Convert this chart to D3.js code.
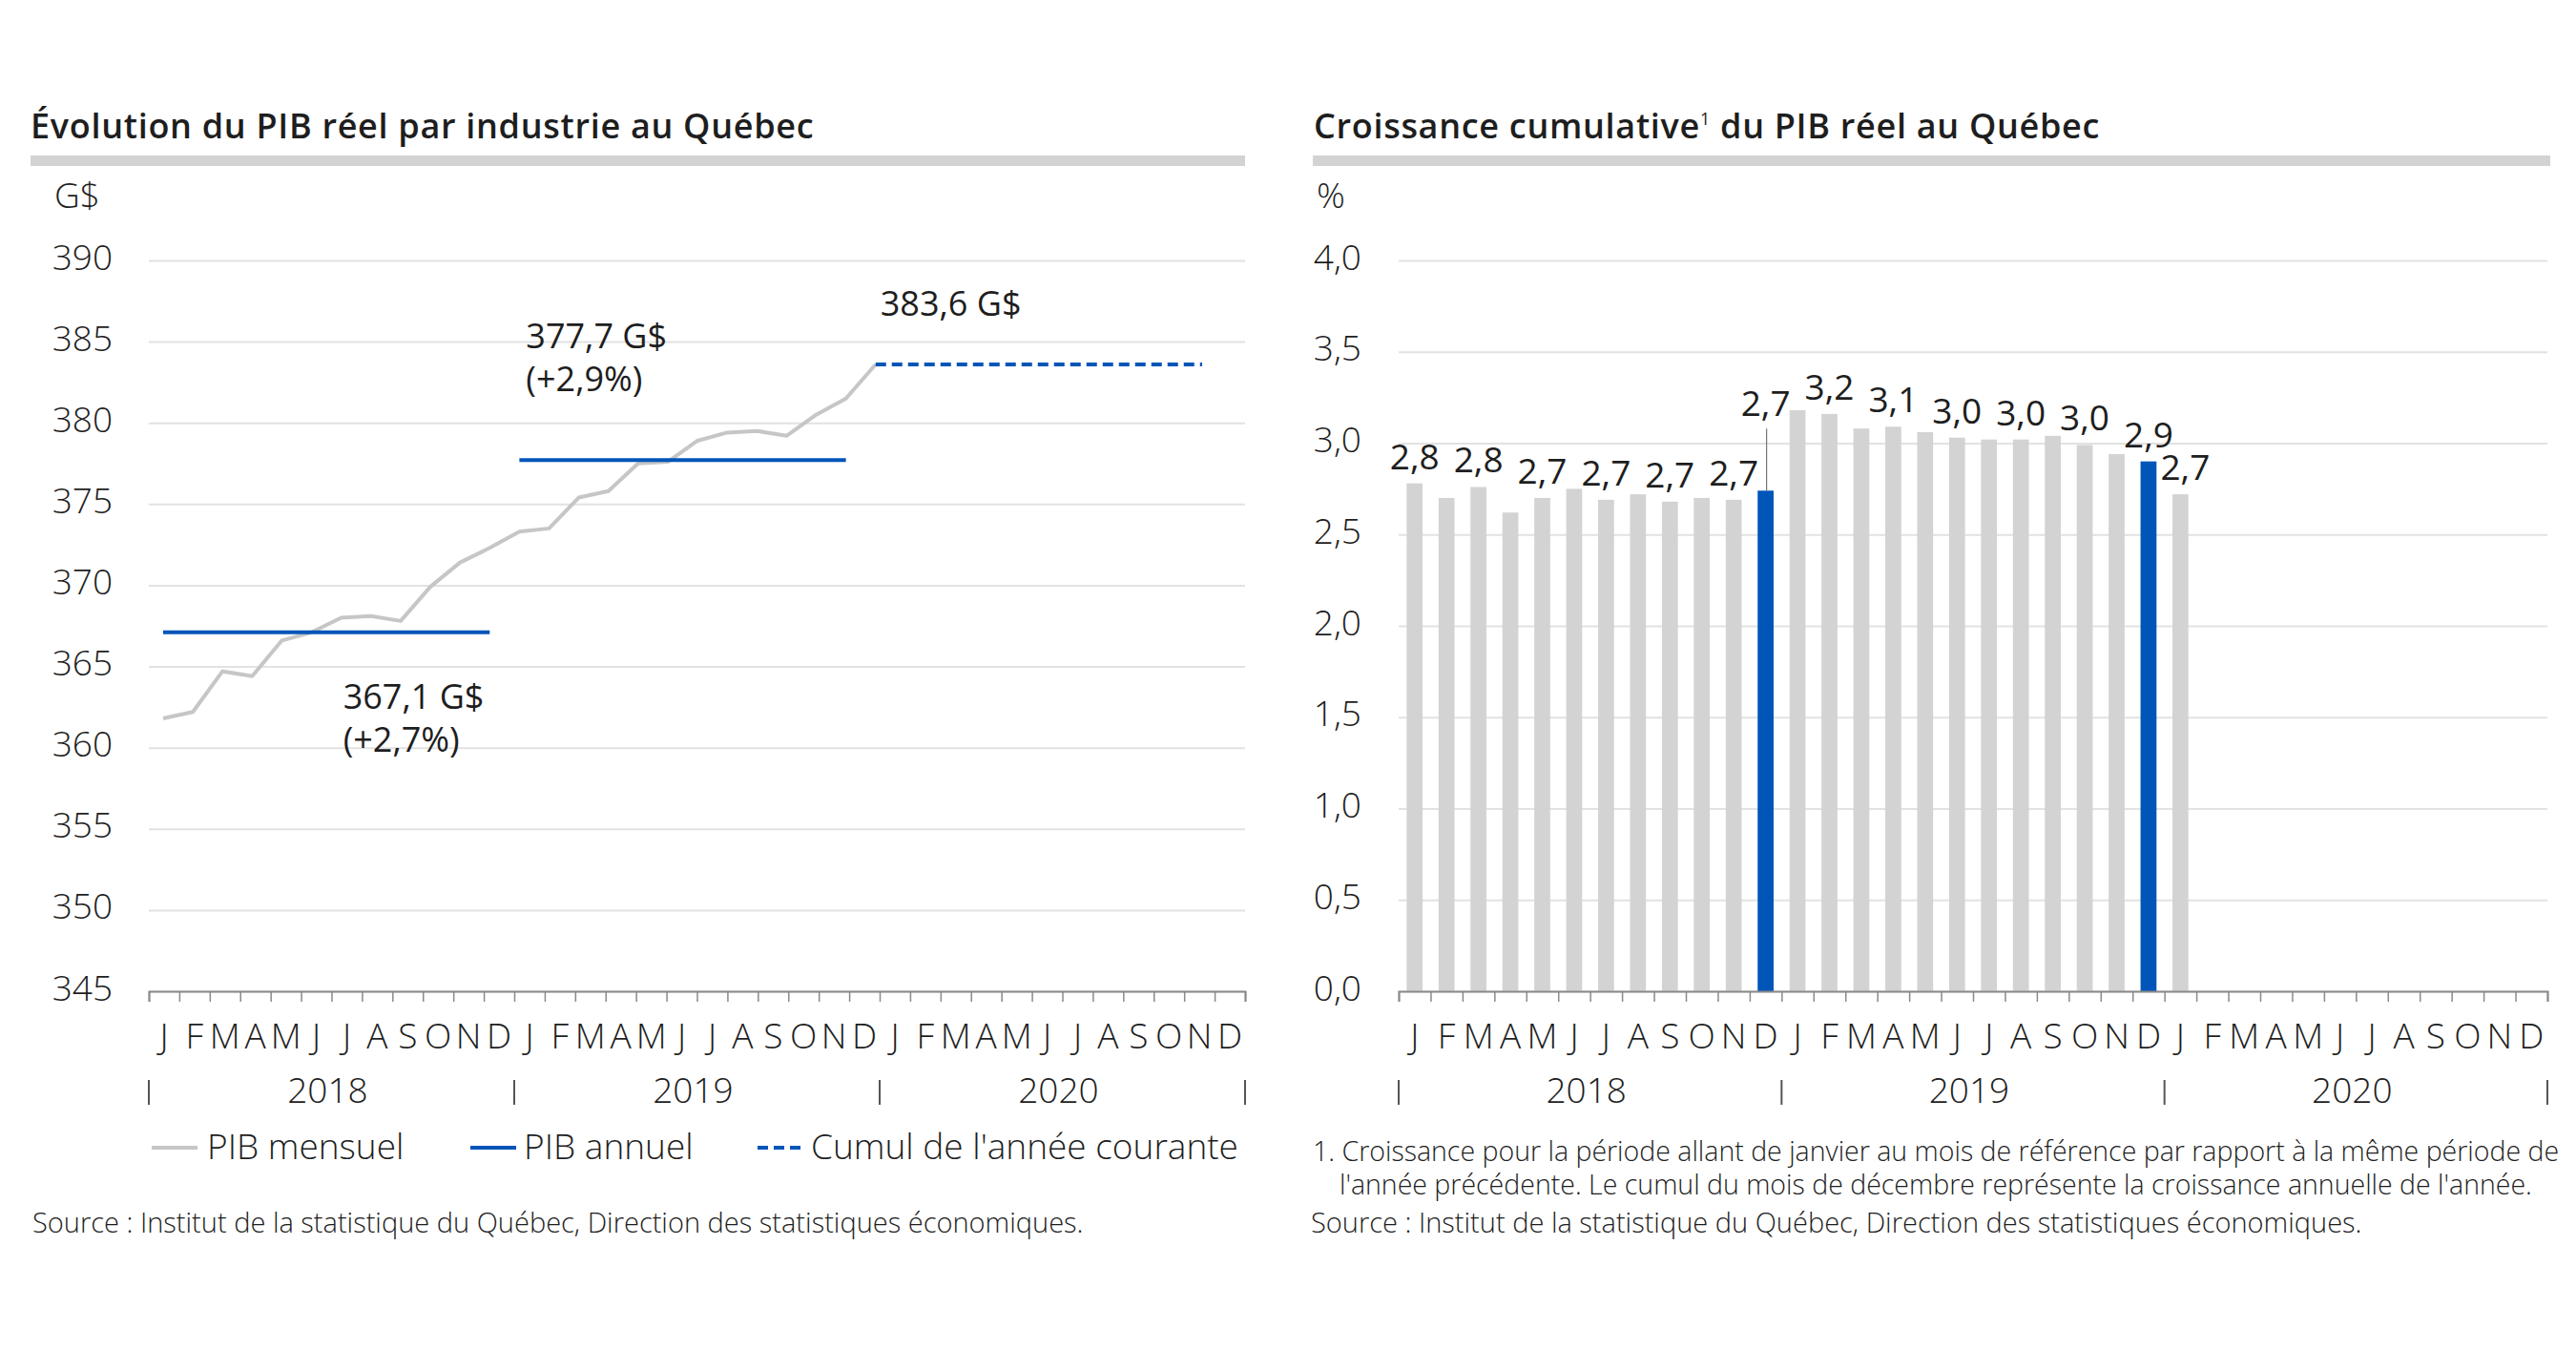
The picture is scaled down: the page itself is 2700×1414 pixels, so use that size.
<!DOCTYPE html>
<html>
<head>
<meta charset="utf-8">
<script src="https://cdn.jsdelivr.net/npm/d3@7"></script>
<style>
  body { margin: 0; background: #fff; }
  svg { display: block; font-family: 'Open Sans', sans-serif; }
</style>
</head>
<body>
<div id="chart"></div>
<script>
// months and years for both x axes
const months = ['J', 'F', 'M', 'A', 'M', 'J', 'J', 'A', 'S', 'O', 'N', 'D'];
const years = ['2018', '2019', '2020'];

// left panel: PIB réel (G$)
const pibMensuel = [361.8, 362.2, 364.7, 364.4, 366.6, 367.1, 368.0, 368.1, 367.8, 369.9, 371.4, 372.3,
  373.3, 373.5, 375.4, 375.8, 377.5, 377.6, 378.9, 379.4, 379.5, 379.2, 380.5, 381.5,
  383.6];
const pibAnnuel = [367.1, 377.7];
const cumulCourant = 383.6;
const annuelLabels = [['367,1 G$', '(+2,7%)'], ['377,7 G$', '(+2,9%)']];
const cumulLabel = '383,6 G$';
const leftTicks = [345, 350, 355, 360, 365, 370, 375, 380, 385, 390];

// right panel: croissance cumulative (%)
const croissance = [2.78, 2.70, 2.76, 2.62, 2.70, 2.75, 2.69, 2.72, 2.68, 2.70, 2.69, 2.74,
  3.18, 3.16, 3.08, 3.09, 3.06, 3.03, 3.02, 3.02, 3.04, 2.99, 2.94, 2.90,
  2.72];
const labelled = [0, 2, 4, 6, 8, 10, 11, 13, 15, 17, 19, 21, 23, 24];
const rightTicks = [0, 0.5, 1, 1.5, 2, 2.5, 3, 3.5, 4];

const legendItems = ['PIB mensuel', 'PIB annuel', "Cumul de l'année courante"];
const footnote = [
  '1. Croissance pour la période allant de janvier au mois de référence par rapport à la même période de',
  "l'année précédente. Le cumul du mois de décembre représente la croissance annuelle de l'année."
];
const source = 'Source : Institut de la statistique du Québec, Direction des statistiques économiques.';

const BLUE = '#0055b8';
const GREY_BAR = '#d3d3d3';
const GREY_LINE = '#c6c6c6';
const GRID = '#e2e2e2';
const TEXT = '#1e1e1e';

const fr = d3.formatLocale({ decimal: ',', thousands: ' ', grouping: [3], currency: ['', ' $'] });
const f1 = fr.format('.1f');
const f0 = fr.format('d');

const width = 2700;
const height = 1414;
const svg = d3.select('#chart').append('svg')
  .attr('width', width).attr('height', height);
svg.append('rect').attr('width', width).attr('height', height).attr('fill', '#fff');

const allMonths = d3.range(36);
const axisY = 1039;

function monthAxis(x0, x1) {
  const band = d3.scaleBand().domain(allMonths).range([x0, x1]);
  const edge = d3.scaleLinear().domain([0, 36]).range([x0, x1]);

  // axis line + monthly tick marks
  svg.append('g')
    .attr('transform', `translate(0,${axisY})`)
    .call(d3.axisBottom(edge).tickValues(d3.range(37)).tickSize(11).tickFormat(''))
    .call(g => g.select('.domain').attr('stroke', '#8a8a8a').attr('stroke-width', 2))
    .call(g => g.selectAll('.tick line').attr('stroke', '#8a8a8a').attr('stroke-width', 1.5));

  // month letters
  svg.append('g')
    .attr('transform', `translate(0,${axisY})`)
    .call(d3.axisBottom(band).tickSize(0).tickFormat(i => months[i % 12]))
    .call(g => g.select('.domain').remove())
    .call(g => g.selectAll('text')
      .attr('y', 60).attr('dy', null)
      .attr('font-size', 37).attr('font-weight', 300)
      .attr('font-family', "'Open Sans', sans-serif").attr('fill', TEXT));

  // year separators and year labels
  svg.append('g').selectAll('line')
    .data([0, 12, 24, 36])
    .join('line')
    .attr('x1', d => edge(d)).attr('x2', d => edge(d))
    .attr('y1', 1132).attr('y2', 1158)
    .attr('stroke', '#555').attr('stroke-width', 2);
  svg.append('g').selectAll('text')
    .data(years)
    .join('text')
    .attr('x', (d, i) => (edge(i * 12) + edge(i * 12 + 12)) / 2 - 4)
    .attr('y', 1156)
    .attr('text-anchor', 'middle')
    .attr('font-size', 37).attr('font-weight', 300).attr('fill', TEXT)
    .text(d => d);
  return band;
}

function valueAxis(y, ticks, x0, x1, labelRight, fmt) {
  svg.append('g')
    .attr('transform', `translate(${x0},0)`)
    .call(d3.axisLeft(y).tickValues(ticks).tickSize(-(x1 - x0)).tickFormat(fmt))
    .call(g => g.select('.domain').remove())
    .call(g => g.selectAll('.tick line').attr('stroke', GRID).attr('stroke-width', 2))
    .call(g => g.selectAll('.tick text')
      .attr('x', labelRight - x0).attr('dy', null).attr('y', 9)
      .attr('font-size', 37).attr('font-weight', 300)
      .attr('font-family', "'Open Sans', sans-serif").attr('fill', TEXT));
}

// ---------------- left panel ----------------
const L = { x0: 156, x1: 1305 };
svg.append('text').attr('x', 32).attr('y', 145)
  .attr('font-size', 36).attr('font-weight', 600).attr('letter-spacing', 0.7).attr('fill', TEXT)
  .text('Évolution du PIB réel par industrie au Québec');
svg.append('rect').attr('x', 32).attr('y', 163).attr('width', 1273).attr('height', 11).attr('fill', GREY_BAR);
svg.append('text').attr('x', 57).attr('y', 218)
  .attr('font-size', 37).attr('font-weight', 300).attr('fill', TEXT).text('G$');

const yL = d3.scaleLinear().domain([345, 390]).range([axisY, 273]);
valueAxis(yL, leftTicks, L.x0, L.x1, 118, f0);
monthAxis(L.x0, L.x1);

// the line series sit on a slightly narrower category axis than the ticks
const xLine = d3.scalePoint().domain(allMonths).range([171, 1260]);

svg.append('path')
  .datum(pibMensuel)
  .attr('fill', 'none')
  .attr('stroke', GREY_LINE)
  .attr('stroke-width', 4)
  .attr('stroke-linejoin', 'round')
  .attr('d', d3.line().x((d, i) => xLine(i)).y(d => yL(d)));

svg.append('g').selectAll('line')
  .data(pibAnnuel)
  .join('line')
  .attr('x1', (d, i) => xLine(i * 12)).attr('x2', (d, i) => xLine(i * 12 + 11))
  .attr('y1', d => yL(d)).attr('y2', d => yL(d))
  .attr('stroke', BLUE).attr('stroke-width', 4);

svg.append('line')
  .attr('x1', xLine(24)).attr('x2', xLine(35))
  .attr('y1', yL(cumulCourant)).attr('y2', yL(cumulCourant))
  .attr('stroke', BLUE).attr('stroke-width', 4)
  .attr('stroke-dasharray', '11 6');

// annotations
const annPos = [{ x: xLine(6) + 2, dy: 80 }, { x: xLine(12) + 7, dy: -117 }];
annuelLabels.forEach((lines, i) => {
  const t = svg.append('text')
    .attr('font-size', 36).attr('fill', TEXT);
  lines.forEach((s, k) => {
    t.append('tspan')
      .attr('x', annPos[i].x)
      .attr('y', yL(pibAnnuel[i]) + annPos[i].dy + k * 45)
      .text(s);
  });
});
svg.append('text')
  .attr('x', xLine(24) + 5).attr('y', yL(cumulCourant) - 51)
  .attr('font-size', 36).attr('fill', TEXT)
  .text(cumulLabel);

// legend
const legX = [159, 493, 794];
const legend = svg.append('g').selectAll('g')
  .data(legendItems)
  .join('g')
  .attr('transform', (d, i) => `translate(${legX[i]},1203)`);
legend.append('line')
  .attr('x1', 0).attr('x2', (d, i) => i === 2 ? 50 : 48)
  .attr('stroke', (d, i) => i === 0 ? GREY_LINE : BLUE)
  .attr('stroke-width', 4)
  .attr('stroke-dasharray', (d, i) => i === 2 ? '11 6' : null);
legend.append('text')
  .attr('x', (d, i) => i === 0 ? 58 : 56).attr('y', 12)
  .attr('font-size', 37).attr('font-weight', 300).attr('fill', TEXT)
  .text(d => d);

svg.append('text').attr('x', 34).attr('y', 1292)
  .attr('font-size', 29).attr('font-weight', 300).attr('fill', TEXT)
  .text(source);

// ---------------- right panel ----------------
const R = { x0: 1466, x1: 2670 };
const rTitle = svg.append('text').attr('x', 1377).attr('y', 145)
  .attr('font-size', 36).attr('font-weight', 600).attr('letter-spacing', 0.7).attr('fill', TEXT);
rTitle.append('tspan').text('Croissance cumulative');
rTitle.append('tspan').attr('font-size', 18).attr('font-weight', 400).attr('dy', -14).text('1');
rTitle.append('tspan').attr('dy', 14).text(' du PIB réel au Québec');
svg.append('rect').attr('x', 1376).attr('y', 163).attr('width', 1297).attr('height', 11).attr('fill', GREY_BAR);
svg.append('text').attr('x', 1380).attr('y', 218)
  .attr('font-size', 37).attr('font-weight', 300).attr('fill', TEXT).text('%');

const yR = d3.scaleLinear().domain([0, 4]).range([axisY, 273]);
valueAxis(yR, rightTicks, R.x0, R.x1, 1427, f1);

const xR = d3.scaleBand().domain(allMonths).range([R.x0, R.x1]).paddingInner(0.5).paddingOuter(0.25);

svg.append('g').selectAll('rect')
  .data(croissance)
  .join('rect')
  .attr('x', (d, i) => xR(i))
  .attr('width', xR.bandwidth())
  .attr('y', d => yR(d))
  .attr('height', d => axisY - yR(d))
  .attr('fill', (d, i) => i % 12 === 11 ? BLUE : GREY_BAR);

monthAxis(R.x0, R.x1);

// value labels
const labelData = labelled.map(i => ({ i, v: croissance[i] }));
const lifted = 11; // Dec 2018 label sits higher, with a leader line
svg.append('line')
  .attr('x1', xR(lifted) + xR.bandwidth() / 2 + 1).attr('x2', xR(lifted) + xR.bandwidth() / 2 + 1)
  .attr('y1', yR(croissance[lifted]) - 65).attr('y2', yR(croissance[lifted]))
  .attr('stroke', '#777').attr('stroke-width', 1.2);
svg.append('g').selectAll('text')
  .data(labelData)
  .join('text')
  .attr('x', d => xR(d.i) + xR.bandwidth() / 2 + (d.i === 24 ? 5 : 0))
  .attr('y', d => yR(d.v) - (d.i === lifted ? 78 : 15))
  .attr('text-anchor', 'middle')
  .attr('font-size', 37).attr('fill', TEXT)
  .text(d => f1(d.v));

// footnote + source
svg.append('text').attr('x', 1376).attr('y', 1217)
  .attr('font-size', 28.5).attr('font-weight', 300).attr('fill', TEXT).text(footnote[0]);
svg.append('text').attr('x', 1404).attr('y', 1252)
  .attr('font-size', 28.5).attr('font-weight', 300).attr('fill', TEXT).text(footnote[1]);
svg.append('text').attr('x', 1374).attr('y', 1292)
  .attr('font-size', 29).attr('font-weight', 300).attr('fill', TEXT).text(source);
</script>
</body>
</html>
